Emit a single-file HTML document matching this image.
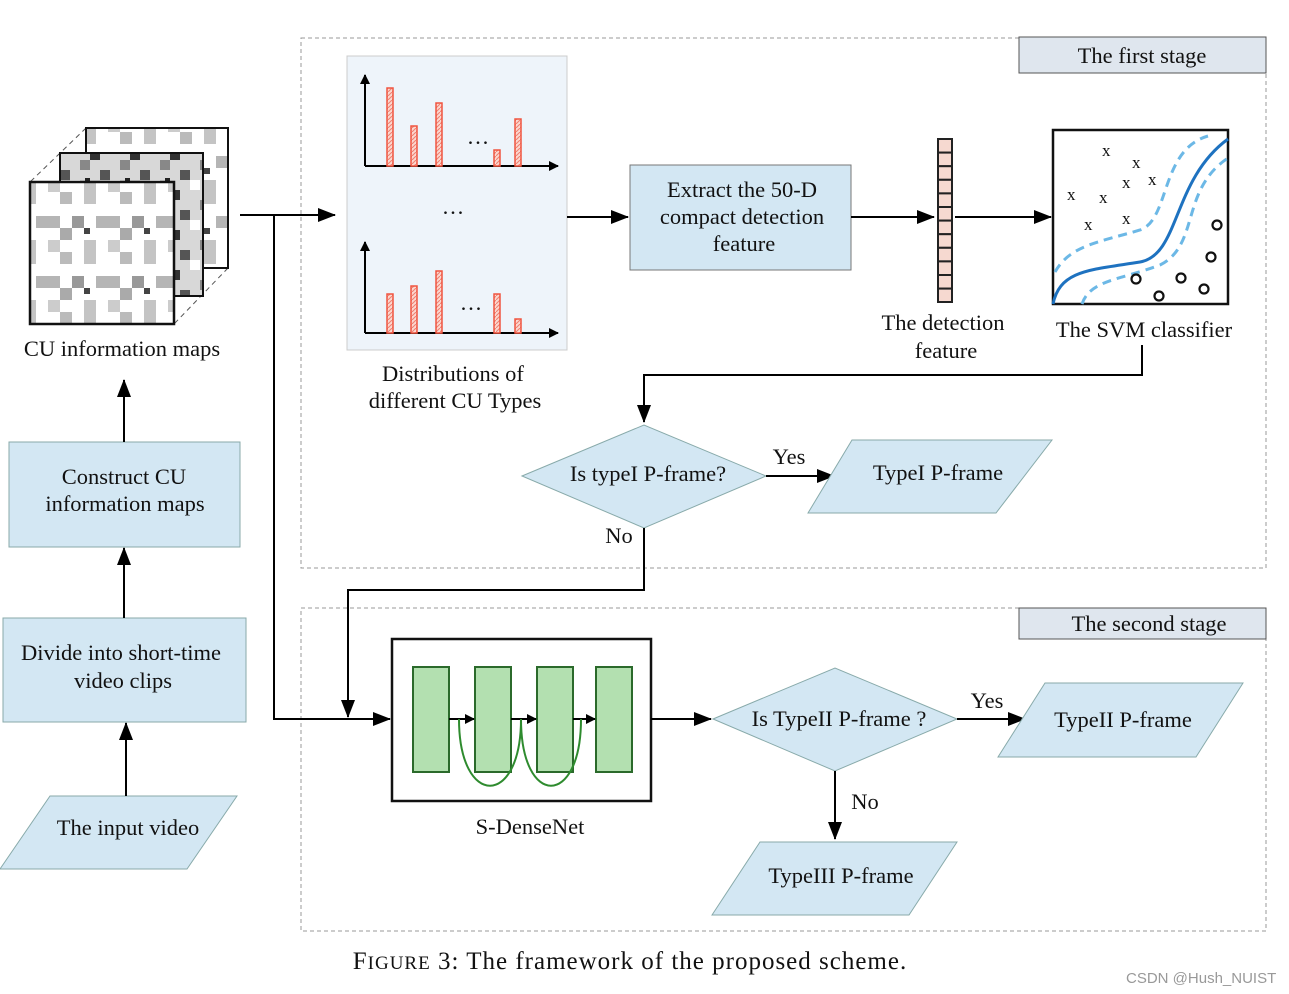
<!DOCTYPE html>
<html><head><meta charset="utf-8"><style>
html,body{margin:0;padding:0;background:#fff;}
svg{display:block;}
text{font-family:"Liberation Serif",serif;font-size:22.5px;fill:#111;}
</style></head><body>
<svg width="1289" height="994" viewBox="0 0 1289 994" xmlns="http://www.w3.org/2000/svg">
<defs>
<marker id="ah" markerWidth="10" markerHeight="10" refX="9" refY="5" orient="auto" markerUnits="userSpaceOnUse"><path d="M0,0 L10,5 L0,10 z" fill="#000"/></marker>
<marker id="ah2" markerWidth="18" markerHeight="14" refX="17" refY="7" orient="auto" markerUnits="userSpaceOnUse"><path d="M0,0 L18,7 L0,14 z" fill="#000"/></marker>
<pattern id="cu" width="60" height="60" patternUnits="userSpaceOnUse">
<rect width="60" height="60" fill="#fff"/>
<rect x="0" y="12" width="12" height="12" fill="#bbb"/><rect x="24" y="0" width="12" height="24" fill="#c4c4c4"/>
<rect x="36" y="36" width="24" height="12" fill="#b5b5b5"/><rect x="12" y="36" width="12" height="12" fill="#999"/>
<rect x="48" y="0" width="12" height="12" fill="#ccc"/><rect x="0" y="48" width="12" height="12" fill="#aaa"/>
<rect x="24" y="48" width="6" height="6" fill="#444"/>
</pattern>
<pattern id="cu2" width="40" height="40" patternUnits="userSpaceOnUse">
<rect width="40" height="40" fill="#d8d8d8"/>
<rect x="0" y="0" width="10" height="10" fill="#888"/><rect x="20" y="10" width="10" height="10" fill="#555"/>
<rect x="10" y="30" width="10" height="10" fill="#333"/><rect x="30" y="20" width="10" height="10" fill="#fff"/>
<rect x="5" y="18" width="5" height="8" fill="#222"/>
</pattern>
<pattern id="hatch" width="4" height="4" patternUnits="userSpaceOnUse"><rect width="4" height="4" fill="#fbd8d0"/><path d="M0,4 L4,0" stroke="#f08070" stroke-width="1"/></pattern>
</defs>

<rect x="301" y="38" width="965" height="530" fill="none" stroke="#999" stroke-dasharray="4,3"/>
<rect x="1019" y="37" width="247" height="36" fill="#dfe6ee" stroke="#555"/>
<text x="1142" y="63" text-anchor="middle">The first stage</text>
<rect x="301" y="608" width="965" height="323" fill="none" stroke="#999" stroke-dasharray="4,3"/>
<rect x="1019" y="608" width="247" height="31" fill="#dfe6ee" stroke="#555"/>
<text x="1149" y="631" text-anchor="middle">The second stage</text>

<line x1="86" y1="128" x2="30" y2="182" stroke="#555" stroke-dasharray="5,4"/>
<line x1="228" y1="268" x2="174" y2="324" stroke="#555" stroke-dasharray="5,4"/>
<rect x="86" y="128" width="142" height="140" fill="url(#cu)" stroke="#111" stroke-width="2"/>
<rect x="60" y="153" width="143" height="143" fill="url(#cu2)" stroke="#111" stroke-width="2"/>
<rect x="30" y="182" width="144" height="142" fill="url(#cu)" stroke="#111" stroke-width="2.5"/>
<text x="122" y="356" text-anchor="middle">CU information maps</text>

<rect x="9" y="442" width="231" height="105" fill="#d3e7f3" stroke="#8aa"/>
<text x="124" y="484" text-anchor="middle">Construct CU</text>
<text x="125" y="511" text-anchor="middle">information maps</text>
<rect x="3" y="618" width="243" height="104" fill="#d3e7f3" stroke="#8aa"/>
<text x="121" y="660" text-anchor="middle">Divide into short-time</text>
<text x="123" y="688" text-anchor="middle">video clips</text>
<polygon points="0,869 50,796 237,796 187,869" fill="#d3e7f3" stroke="#8aa"/>
<text x="128" y="835" text-anchor="middle">The input video</text>
<line x1="126" y1="796" x2="126" y2="723" stroke="#000" stroke-width="2" marker-end="url(#ah2)"/>
<line x1="124" y1="618" x2="124" y2="548" stroke="#000" stroke-width="2" marker-end="url(#ah2)"/>
<line x1="124" y1="442" x2="124" y2="380" stroke="#000" stroke-width="2" marker-end="url(#ah2)"/>

<line x1="240" y1="215" x2="335" y2="215" stroke="#000" stroke-width="2" marker-end="url(#ah2)"/>
<polyline points="274,215 274,719 390,719" fill="none" stroke="#000" stroke-width="2" marker-end="url(#ah2)"/>

<rect x="347" y="56" width="220" height="294" fill="#eef4fa" stroke="#ccc"/>
<g stroke="#000" stroke-width="2" fill="none">
<line x1="365" y1="166" x2="365" y2="75" marker-end="url(#ah)"/>
<line x1="365" y1="166" x2="558" y2="166" marker-end="url(#ah)"/>
<line x1="365" y1="333" x2="365" y2="242" marker-end="url(#ah)"/>
<line x1="365" y1="333" x2="558" y2="333" marker-end="url(#ah)"/>
</g>
<g fill="url(#hatch)" stroke="#f05540" stroke-width="1.5">
<rect x="387" y="88" width="6" height="78"/><rect x="411" y="126" width="6" height="40"/><rect x="436" y="103" width="6" height="63"/>
<rect x="494" y="150" width="6" height="16"/><rect x="515" y="119" width="6" height="47"/>
<rect x="387" y="294" width="6" height="39"/><rect x="411" y="286" width="6" height="47"/><rect x="436" y="271" width="6" height="62"/>
<rect x="494" y="294" width="6" height="39"/><rect x="515" y="319" width="6" height="14"/>
</g>
<text x="478" y="150" text-anchor="middle" font-size="16">···</text>
<text x="453" y="220" text-anchor="middle" font-size="16">···</text>
<text x="471" y="316" text-anchor="middle" font-size="16">···</text>
<text x="453" y="381" text-anchor="middle">Distributions of</text>
<text x="455" y="408" text-anchor="middle">different CU Types</text>

<line x1="567" y1="217" x2="628" y2="217" stroke="#000" stroke-width="2" marker-end="url(#ah2)"/>
<rect x="630" y="165" width="221" height="105" fill="#d3e7f3" stroke="#777"/>
<text x="742" y="197" text-anchor="middle">Extract the 50-D</text>
<text x="742" y="224" text-anchor="middle">compact detection</text>
<text x="744" y="251" text-anchor="middle">feature</text>
<line x1="851" y1="217" x2="934" y2="217" stroke="#000" stroke-width="2" marker-end="url(#ah2)"/>

<g fill="#f6d9d0" stroke="#222" stroke-width="2">
<rect x="938" y="139" width="14" height="13.6"/><rect x="938" y="152.6" width="14" height="13.6"/><rect x="938" y="166.2" width="14" height="13.6"/><rect x="938" y="179.8" width="14" height="13.6"/><rect x="938" y="193.4" width="14" height="13.6"/><rect x="938" y="207" width="14" height="13.6"/><rect x="938" y="220.6" width="14" height="13.6"/><rect x="938" y="234.2" width="14" height="13.6"/><rect x="938" y="247.8" width="14" height="13.6"/><rect x="938" y="261.4" width="14" height="13.6"/><rect x="938" y="275" width="14" height="13.6"/><rect x="938" y="288.6" width="14" height="13.4"/>
</g>
<text x="943" y="330" text-anchor="middle">The detection</text>
<text x="946" y="358" text-anchor="middle">feature</text>
<line x1="955" y1="217" x2="1051" y2="217" stroke="#000" stroke-width="2" marker-end="url(#ah2)"/>

<rect x="1053" y="130" width="175" height="174" fill="#fff" stroke="#111" stroke-width="2.5"/>
<path d="M1053,304 C1060,270 1090,270 1140,262 C1180,255 1172,180 1228,139" fill="none" stroke="#1e72c0" stroke-width="3"/>
<path d="M1055,272 C1070,245 1100,242 1140,230 C1170,220 1160,150 1208,136" fill="none" stroke="#6cb8e6" stroke-width="3" stroke-dasharray="9,6"/>
<path d="M1082,304 C1090,280 1120,280 1160,265 C1200,245 1180,190 1228,158" fill="none" stroke="#6cb8e6" stroke-width="3" stroke-dasharray="9,6"/>
<g><text x="1102" y="156" font-size="17" style="font-size:17px">x</text><text x="1132" y="168" style="font-size:17px">x</text><text x="1122" y="188" style="font-size:17px">x</text><text x="1148" y="185" style="font-size:17px">x</text><text x="1067" y="200" style="font-size:17px">x</text><text x="1099" y="203" style="font-size:17px">x</text><text x="1084" y="230" style="font-size:17px">x</text><text x="1122" y="224" style="font-size:17px">x</text></g>
<g fill="none" stroke="#111" stroke-width="2.2"><circle cx="1217" cy="225" r="4.5"/><circle cx="1211" cy="257" r="4.5"/><circle cx="1136" cy="279" r="4.5"/><circle cx="1181" cy="278" r="4.5"/><circle cx="1204" cy="289" r="4.5"/><circle cx="1159" cy="296" r="4.5"/></g>
<text x="1144" y="337" text-anchor="middle">The SVM classifier</text>

<polyline points="1142,345 1142,375 644,375 644,422" fill="none" stroke="#000" stroke-width="2" marker-end="url(#ah2)"/>
<polygon points="522,476 644,425 766,476 644,528" fill="#d3e7f3" stroke="#8aa"/>
<text x="648" y="481" text-anchor="middle">Is typeI P-frame?</text>
<line x1="766" y1="476" x2="834" y2="476" stroke="#000" stroke-width="2" marker-end="url(#ah2)"/>
<text x="789" y="464" text-anchor="middle">Yes</text>
<polygon points="808,513 852,440 1052,440 996,513" fill="#d3e7f3" stroke="#8aa"/>
<text x="938" y="480" text-anchor="middle">TypeI P-frame</text>
<text x="619" y="543" text-anchor="middle">No</text>
<polyline points="644,528 644,590 348,590 348,717" fill="none" stroke="#000" stroke-width="2" marker-end="url(#ah2)"/>

<rect x="392" y="639" width="259" height="162" fill="#fff" stroke="#111" stroke-width="2.5"/>
<g fill="#b3e0b0" stroke="#2b6a2b" stroke-width="2"><rect x="413" y="667" width="36" height="105"/><rect x="475" y="667" width="36" height="105"/><rect x="537" y="667" width="36" height="105"/><rect x="596" y="667" width="36" height="105"/></g>
<g stroke="#000" stroke-width="2"><line x1="449" y1="719" x2="474" y2="719" marker-end="url(#ah)"/><line x1="511" y1="719" x2="536" y2="719" marker-end="url(#ah)"/><line x1="573" y1="719" x2="595" y2="719" marker-end="url(#ah)"/></g>
<path d="M459,719 C459,808 521,808 521,719 C521,808 581,808 581,719" fill="none" stroke="#2e8b2e" stroke-width="2"/>
<text x="530" y="834" text-anchor="middle">S-DenseNet</text>
<line x1="651" y1="719" x2="711" y2="719" stroke="#000" stroke-width="2" marker-end="url(#ah2)"/>

<polygon points="713,719 835,668 957,719 835,771" fill="#d3e7f3" stroke="#8aa"/>
<text x="839" y="726" text-anchor="middle">Is TypeII P-frame ?</text>
<line x1="957" y1="719" x2="1025" y2="719" stroke="#000" stroke-width="2" marker-end="url(#ah2)"/>
<text x="987" y="708" text-anchor="middle">Yes</text>
<polygon points="998,757 1045,683 1243,683 1196,757" fill="#d3e7f3" stroke="#8aa"/>
<text x="1123" y="727" text-anchor="middle">TypeII P-frame</text>
<line x1="835" y1="771" x2="835" y2="839" stroke="#000" stroke-width="2" marker-end="url(#ah2)"/>
<text x="865" y="809" text-anchor="middle">No</text>
<polygon points="712,915 760,842 957,842 909,915" fill="#d3e7f3" stroke="#8aa"/>
<text x="841" y="883" text-anchor="middle">TypeIII P-frame</text>

<text x="630" y="969" text-anchor="middle" letter-spacing="1.0" style="font-size:25px">F<tspan style="font-size:19px">IGURE</tspan> 3: The framework of the proposed scheme.</text>
<text x="1126" y="983" style="font-family:'Liberation Sans',sans-serif;fill:#999;font-size:15px">CSDN @Hush_NUIST</text>
</svg>
</body></html>
